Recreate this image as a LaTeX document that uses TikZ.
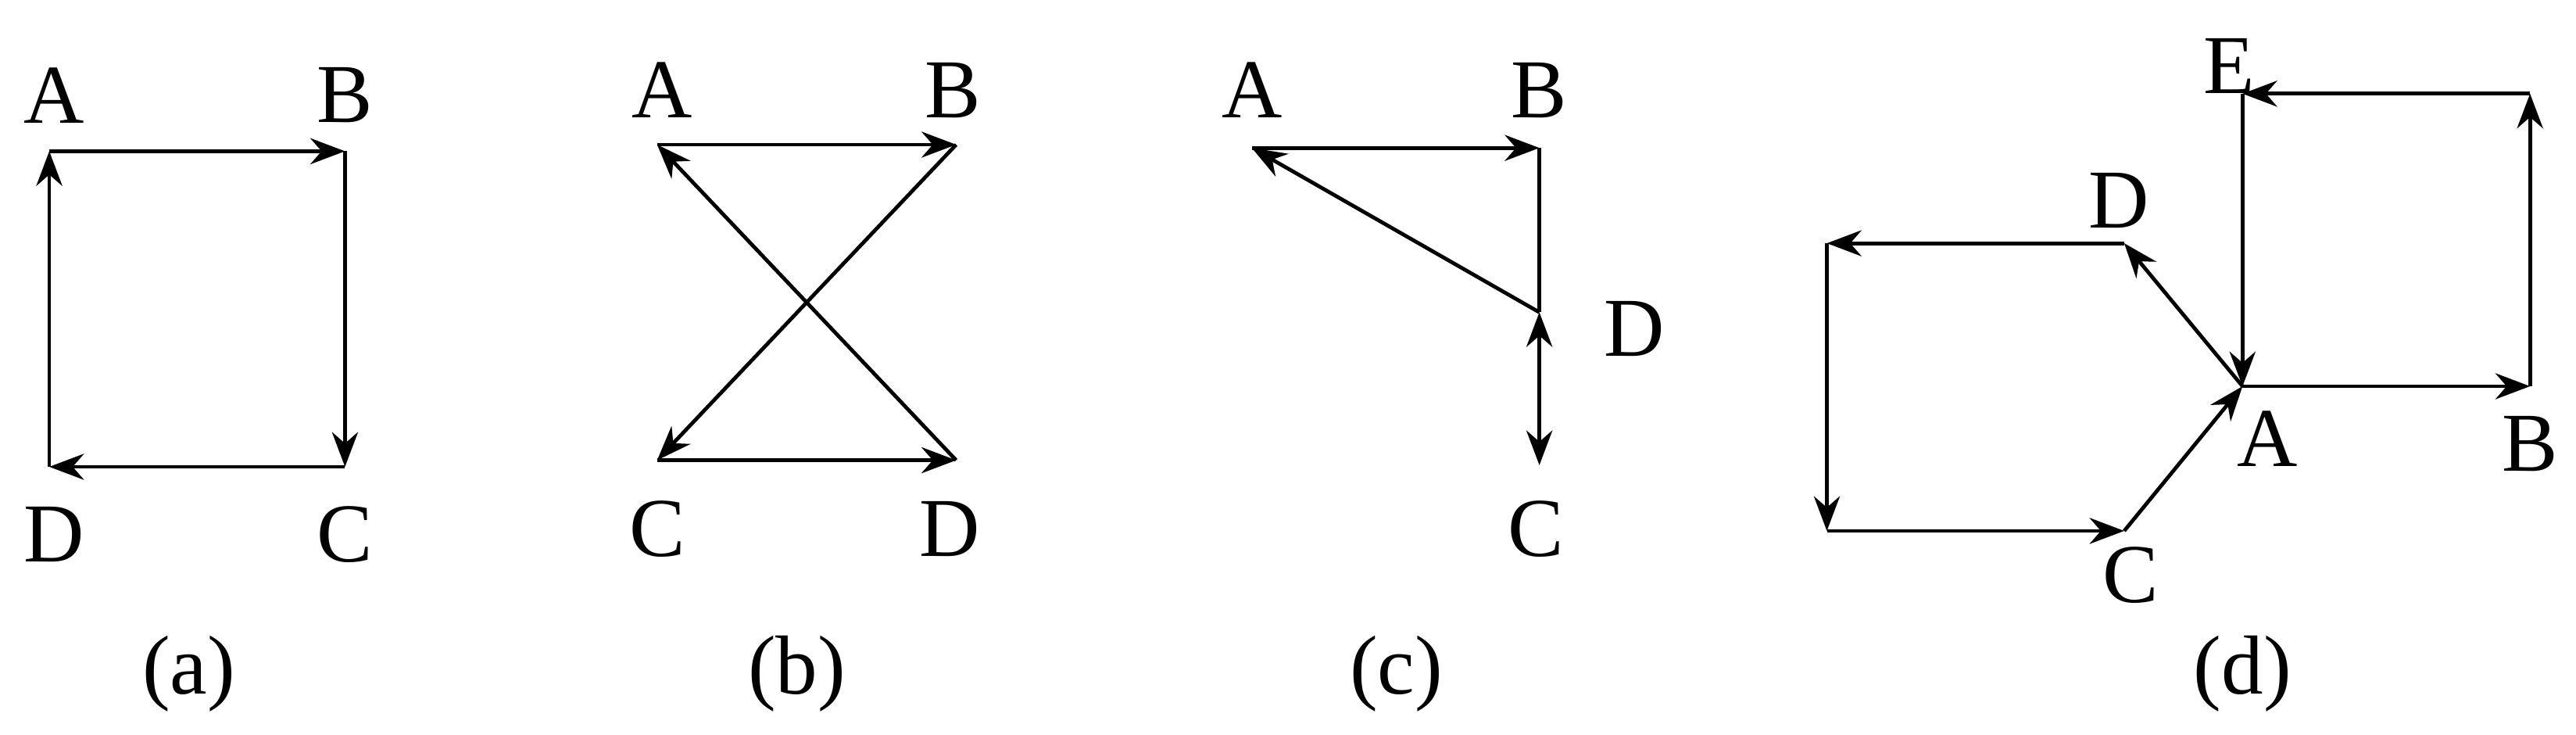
\documentclass[tikz,border=0pt]{standalone}
\usepackage{fontspec}
\setmainfont{Liberation Serif}
\usetikzlibrary{arrows.meta}
\begin{document}
\begin{tikzpicture}[x=0.02cm,y=-0.02cm,
  edge/.style={line width=1.3pt,-{Stealth[length=12pt,width=9pt]}},
  plain/.style={line width=1.3pt},
  lbl/.style={font=\fontsize{29}{31}\selectfont, inner sep=0pt}]
\useasboundingbox (0,0) rectangle (1568,447);
% (a)
\coordinate (aA) at (30,92); \coordinate (aB) at (210,92);
\coordinate (aC) at (210,284); \coordinate (aD) at (30,284);
\draw[edge] (aA) -- (aB); \draw[edge] (aB) -- (aC);
\draw[edge] (aC) -- (aD); \draw[edge] (aD) -- (aA);
\node[lbl] (laA) at (33,58) {A}; \node[lbl] (laB) at (210,58) {B};
\node[lbl] (laD) at (33,325) {D}; \node[lbl] (laC) at (210,325) {C};
\node[lbl] (capa) at (115,410) {(a)};
% (b)
\coordinate (bA) at (400,88); \coordinate (bB) at (582,88);
\coordinate (bC) at (400,280); \coordinate (bD) at (582,280);
\draw[edge] (bA) -- (bB); \draw[edge] (bB) -- (bC);
\draw[edge] (bC) -- (bD); \draw[edge] (bD) -- (bA);
\node[lbl] (lbA) at (403,55) {A}; \node[lbl] (lbB) at (580,55) {B};
\node[lbl] (lbC) at (400,322) {C}; \node[lbl] (lbD) at (578,322) {D};
\node[lbl] (capb) at (485,410) {(b)};
% (c)
\coordinate (cA) at (762,90); \coordinate (cB) at (937,90);
\coordinate (cD) at (937,190); \coordinate (cC) at (937,283);
\draw[edge] (cA) -- (cB); \draw[plain] (cB) -- (cD);
\draw[edge] (cD) -- (cA);
\draw[line width=1.3pt,{Stealth[length=12pt,width=9pt]}-{Stealth[length=12pt,width=9pt]}] (cD) -- (cC);
\node[lbl] (lcA) at (762,55) {A}; \node[lbl] (lcB) at (937,55) {B};
\node[lbl] (lcD) at (995,200) {D}; \node[lbl] (lcC) at (935,322) {C};
\node[lbl] (capc) at (850,410) {(c)};
% (d)
\coordinate (dA) at (1365,235); \coordinate (dB) at (1540,235);
\coordinate (dE) at (1365,57); \coordinate (dF) at (1540,57);
\coordinate (dD) at (1293,148); \coordinate (dG) at (1112,148);
\coordinate (dH) at (1112,323); \coordinate (dC) at (1293,323);
\draw[edge] (dA) -- (dB); \draw[edge] (dB) -- (dF);
\draw[edge] (dF) -- (dE); \draw[edge] (dE) -- (dA);
\draw[edge] (dA) -- (dD); \draw[edge] (dD) -- (dG);
\draw[edge] (dG) -- (dH); \draw[edge] (dH) -- (dC);
\draw[edge] (dC) -- (dA);
\node[lbl] (ldE) at (1357,40) {E}; \node[lbl] (ldD) at (1290,122) {D};
\node[lbl] (ldA) at (1380,267) {A}; \node[lbl] (ldB) at (1540,270) {B};
\node[lbl] (ldC) at (1297,350) {C};
\node[lbl] (capd) at (1365,410) {(d)};
\end{tikzpicture}
\end{document}
